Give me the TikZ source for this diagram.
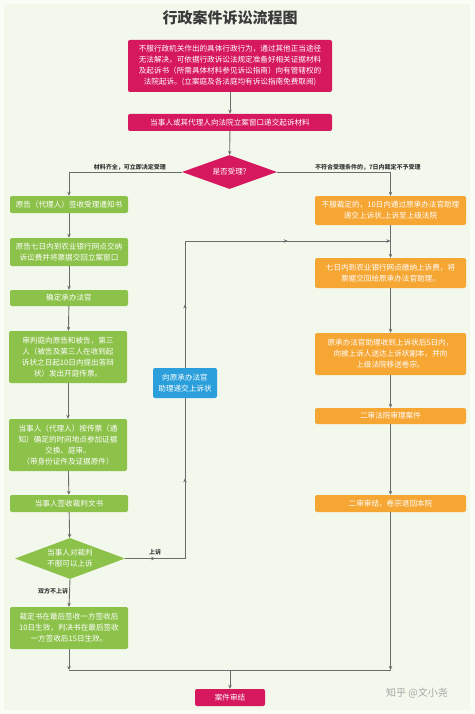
\documentclass[tikz,border=0pt]{standalone}
\usepackage{fontspec}
\setmainfont{Noto Sans CJK SC}
\usetikzlibrary{shapes.geometric, arrows.meta, decorations.markings}

\definecolor{bgpage}{HTML}{F3F8EC}
\definecolor{bgedge}{HTML}{FAFCF6}
\definecolor{pinkbox}{HTML}{D6185E}
\definecolor{greenbox}{HTML}{8CC24A}
\definecolor{orangebox}{HTML}{F6A633}
\definecolor{bluebox}{HTML}{2A9FDB}
\definecolor{flowline}{HTML}{6B6B6B}
\definecolor{titlegray}{HTML}{3A3A3A}

\tikzset{
    box/.style={rectangle, rounded corners=2pt, text=white, align=center,
        font=\fontsize{7.6}{11}\selectfont, inner sep=0pt},
    pinkstep/.style={box, fill=pinkbox, minimum width=204pt},
    greenstep/.style={box, fill=greenbox, minimum width=118pt},
    orangestep/.style={box, fill=orangebox, minimum width=151pt},
    bluestep/.style={box, fill=bluebox, minimum width=64pt, minimum height=30pt},
    decide/.style={diamond, text=white, align=center, inner sep=0pt, aspect=2.8,
        font=\fontsize{7.6}{11}\selectfont},
    flow/.style={draw=flowline, line width=0.9pt},
    tip/.style={flow, -{Stealth[length=4pt, width=3.5pt]}},
    midtip/.style={flow, postaction={decorate}, decoration={markings,
        mark=at position 0.5 with {\arrow{Stealth[length=4pt, width=3.5pt]}}}},
    flowlabel/.style={font=\fontsize{6}{7}\selectfont\bfseries, text=titlegray, inner sep=1pt}
}

\begin{document}
\begin{tikzpicture}[x=1pt, y=-1pt]
    % Background panel
    \fill[bgedge] (0,0) rectangle (474,714);
    \fill[bgpage] (4,4) rectangle (470,710);
    \useasboundingbox (0,0) rectangle (474,714);

    % Title
    \node[font=\fontsize{15}{18}\selectfont\bfseries, text=titlegray] (title) at (230,18) {行政案件诉讼流程图};

    % Filing steps
    \node[pinkstep, minimum height=52pt] (file) at (230,66)
        {不服行政机关作出的具体行政行为，通过其他正当途径\\
         无法解决，可依据行政诉讼法规定准备好相关证据材料\\
         及起诉书（所需具体材料参见诉讼指南）向有管辖权的\\
         法院起诉。(立案庭及各法庭均有诉讼指南免费取阅)};
    \node[pinkstep, minimum height=17pt] (submit) at (230,122.5)
        {当事人或其代理人向法院立案窗口递交起诉材料};
    \node[decide, fill=pinkbox, minimum width=95pt, minimum height=34pt] (accept) at (229.5,172) {是否受理?};

    % First instance (left column)
    \node[greenstep, minimum height=17pt] (notice) at (69,204.5) {原告（代理人）签收受理通知书};
    \node[greenstep, minimum height=28pt] (fee) at (69,252)
        {原告七日内到农业银行网点交纳\\诉讼费并将票据交回立案窗口};
    \node[greenstep, minimum height=16pt] (judge) at (69,298) {确定承办法官};
    \node[greenstep, minimum height=52pt] (summon) at (68,357)
        {审判庭向原告和被告，第三\\
         人（被告及第三人在收到起\\
         诉状之日起10日内提出答辩\\
         状）发出开庭传票。};
    \node[greenstep, minimum height=52pt] (trial) at (68,445)
        {当事人（代理人）按传票（通\\
         知）确定的时间地点参加证据\\
         交换、庭审。\\
         （带身份证件及证据原件）};
    \node[greenstep, minimum height=17pt] (verdict) at (69,503.5) {当事人签收裁判文书};
    \node[decide, fill=greenbox, minimum width=110pt, minimum height=41pt] (appeal) at (70,558.5)
        {当事人对裁判\\不服可以上诉};
    \node[greenstep, minimum height=42pt] (effect) at (69,628)
        {裁定书在最后签收一方签收后\\
         10日生效，判决书在最后签收\\
         一方签收后15日生效。};

    % Appeal (right column)
    \node[orangestep, minimum height=29pt] (refuse) at (390.5,210.5)
        {不服裁定的，10日内通过原承办法官助理\\递交上诉状,上诉至上级法院};
    \node[orangestep, minimum height=30pt] (appfee) at (390.5,273)
        {七日内到农业银行网点缴纳上诉费，将\\票据交回给原承办法官助理。};
    \node[orangestep, minimum height=42pt] (transfer) at (390.5,354)
        {原承办法官助理收到上诉状后5日内，\\
         向被上诉人送达上诉状副本，并向\\
         上级法院移送卷宗。};
    \node[orangestep, minimum height=16pt] (second) at (390.5,416) {二审法院审理案件};
    \node[orangestep, minimum height=17pt] (back) at (390.5,503.5) {二审审结，卷宗退回本院};

    \node[bluestep] (lodge) at (185,383) {向原承办法官\\助理递交上诉状};
    \node[pinkstep, minimum width=70pt, minimum height=17pt] (close) at (230,697.5) {案件审结};

    % Junction points
    \coordinate (join) at (390.5,241);
    \coordinate (turn) at (185,241);
    \coordinate (up) at (185,558.5);
    \coordinate (endL) at (69,670);
    \coordinate (endR) at (390.5,670);
    \coordinate (endM) at (230,670);

    % Main connectors
    \draw[tip] (file) -- (submit);
    \draw[tip] (submit) -- (accept);
    \draw[tip] (accept.west) -| node[pos=0.23, above, flowlabel] {材料齐全，可立即决定受理} (notice.north);
    \draw[tip] (accept.east) -| node[pos=0.4, above, flowlabel] {不符合受理条件的，7日内裁定不予受理} (refuse.north);
    \draw[tip] (notice) -- (fee);
    \draw[tip] (fee) -- (judge);
    \draw[tip] (judge) -- (summon);
    \draw[tip] (summon) -- (trial);
    \draw[tip] (trial) -- (verdict);
    \draw[tip] (verdict) -- (appeal);
    \draw[tip] (appeal.south) -- node[pos=0.45, left, flowlabel] {双方不上诉} (effect.north);
    \draw[tip] (refuse) -- (appfee);
    \draw[tip] (appfee) -- (transfer);
    \draw[tip] (transfer) -- (second);
    \draw[tip] (second) -- (back);

    % Appeal route through the blue step
    \draw[midtip] (appeal.east) -- node[above, flowlabel, yshift=2pt] {上诉} (up);
    \draw[midtip] (up) -- (lodge.south);
    \draw[midtip] (lodge.north) -- (turn);
    \draw[midtip, -{Stealth[length=4pt, width=3.5pt]}] (turn) -- (join);

    % Closing the case
    \draw[tip] (effect.south) -- (endL);
    \draw[tip] (back.south) -- (endR);
    \draw[flow] (endL) -- (endR);
    \draw[tip] (endM) -- (close.north);

    % Watermark
    \node[font=\fontsize{10}{12}\selectfont, text=black!35] (mark) at (417,693) {知乎 @文小尧};
\end{tikzpicture}
\end{document}
